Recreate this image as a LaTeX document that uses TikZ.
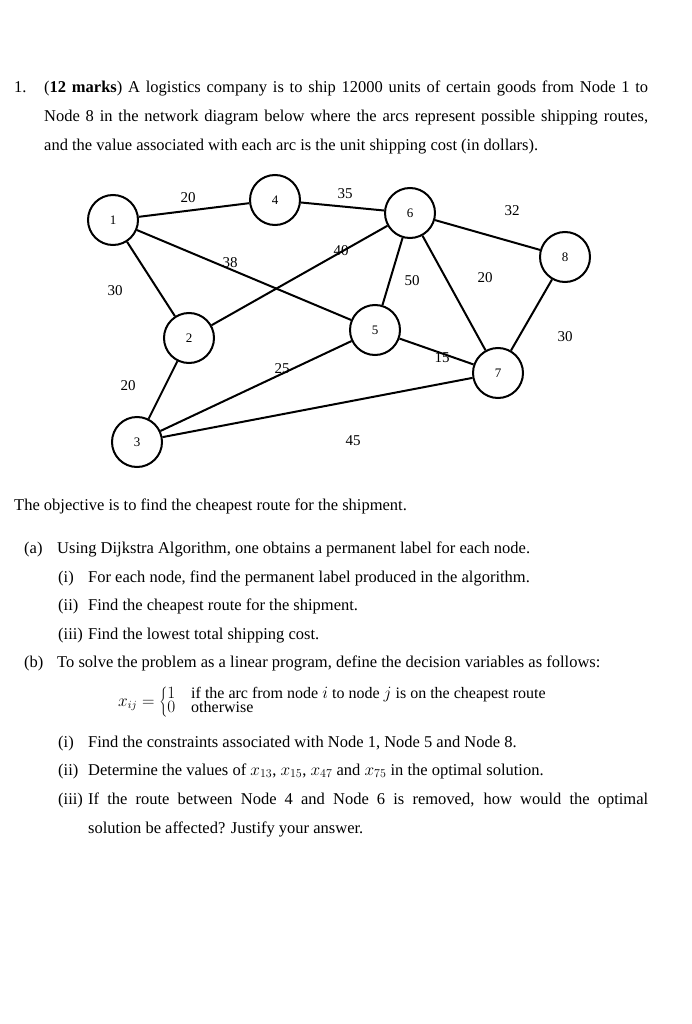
\documentclass[tikz,border=0pt]{standalone}
\usepackage{fontspec}
\setmainfont{Liberation Serif}
\begin{document}
\begin{tikzpicture}[x=1pt,y=-1pt,
  nd/.style={circle,draw,line width=2pt,minimum size=50pt,inner sep=0pt,font=\fontsize{13}{13}\selectfont},
  ed/.style={line width=2pt},
  lb/.style={font=\fontsize{15}{15}\selectfont},
  ln/.style={anchor=base west,inner sep=0pt,font=\fontsize{16.5}{18}\selectfont}]
\useasboundingbox[fill=white] (0,0) rectangle (691,1024);
\node[nd] (n1) at (113,220) {1};
\node[nd] (n4) at (275,200) {4};
\node[nd] (n6) at (410,213) {6};
\node[nd] (n8) at (565,257) {8};
\node[nd] (n2) at (189,338) {2};
\node[nd] (n5) at (375,330) {5};
\node[nd] (n7) at (498,373) {7};
\node[nd] (n3) at (137,442) {3};
\draw[ed] (n1)--(n4); \draw[ed] (n4)--(n6); \draw[ed] (n6)--(n8);
\draw[ed] (n1)--(n2); \draw[ed] (n1)--(n5); \draw[ed] (n2)--(n6);
\draw[ed] (n6)--(n5); \draw[ed] (n6)--(n7); \draw[ed] (n8)--(n7);
\draw[ed] (n5)--(n7); \draw[ed] (n2)--(n3); \draw[ed] (n3)--(n5);
\draw[ed] (n3)--(n7);
\node[lb] (l14) at (188,198) {20};
\node[lb] (l46) at (345,194) {35};
\node[lb] (l68) at (512,211) {32};
\node[lb] (l26) at (341,251) {40};
\node[lb] (l15) at (230,263) {38};
\node[lb] (l12) at (115,291) {30};
\node[lb] (l56) at (412,281) {50};
\node[lb] (l67) at (485,278) {20};
\node[lb] (l78) at (565,337) {30};
\node[lb] (l57) at (442,358) {15};
\node[lb] (l35) at (282,369) {25};
\node[lb] (l23) at (128,386) {20};
\node[lb] (l37) at (353,441) {45};
\node[ln] (q1) at (14,93) {1.};
\node[ln] (p1) at (44,93) {\makebox[604pt][s]{(\textbf{12 marks}) A logistics company is to ship 12000 units of certain goods from Node 1 to}};
\node[ln] (p2) at (44,122) {\makebox[604pt][s]{Node 8 in the network diagram below where the arcs represent possible shipping routes,}};
\node[ln] (p3) at (44,151) {and the value associated with each arc is the unit shipping cost (in dollars).};
\node[ln] (t0) at (14,510) {The objective is to find the cheapest route for the shipment.};
\node[ln] (ta) at (24,553) {\makebox[33pt][l]{(a)}Using Dijkstra Algorithm, one obtains a permanent label for each node.};
\node[ln] (ta1) at (58,582) {\makebox[30pt][l]{(i)}For each node, find the permanent label produced in the algorithm.};
\node[ln] (ta2) at (58,610) {\makebox[30pt][l]{(ii)}Find the cheapest route for the shipment.};
\node[ln] (ta3) at (58,639) {\makebox[30pt][l]{(iii)}Find the lowest total shipping cost.};
\node[ln] (tb) at (24,667) {\makebox[33pt][l]{(b)}To solve the problem as a linear program, define the decision variables as follows:};
\node[anchor=west,inner sep=0pt,font=\fontsize{16}{18}\selectfont] (fm) at (118,702) {$x_{ij}=\left\{\begin{array}{@{}l@{\quad}l@{}}1 & \mbox{if the arc from node $i$ to node $j$ is on the cheapest route}\\[-4pt] 0 & \mbox{otherwise}\end{array}\right.$};
\node[ln] (tb1) at (58,747) {\makebox[30pt][l]{(i)}Find the constraints associated with Node 1, Node 5 and Node 8.};
\node[ln] (tb2) at (58,775) {\makebox[30pt][l]{(ii)}Determine the values of $x_{13}$, $x_{15}$, $x_{47}$ and $x_{75}$ in the optimal solution.};
\node[ln] (tb3) at (58,804) {\makebox[590pt][s]{\makebox[30pt][l]{(iii)}If the route between Node 4 and Node 6 is removed, how would the optimal}};
\node[ln] (tb4) at (88,833) {solution be affected? Justify your answer.};
\end{tikzpicture}
\end{document}
